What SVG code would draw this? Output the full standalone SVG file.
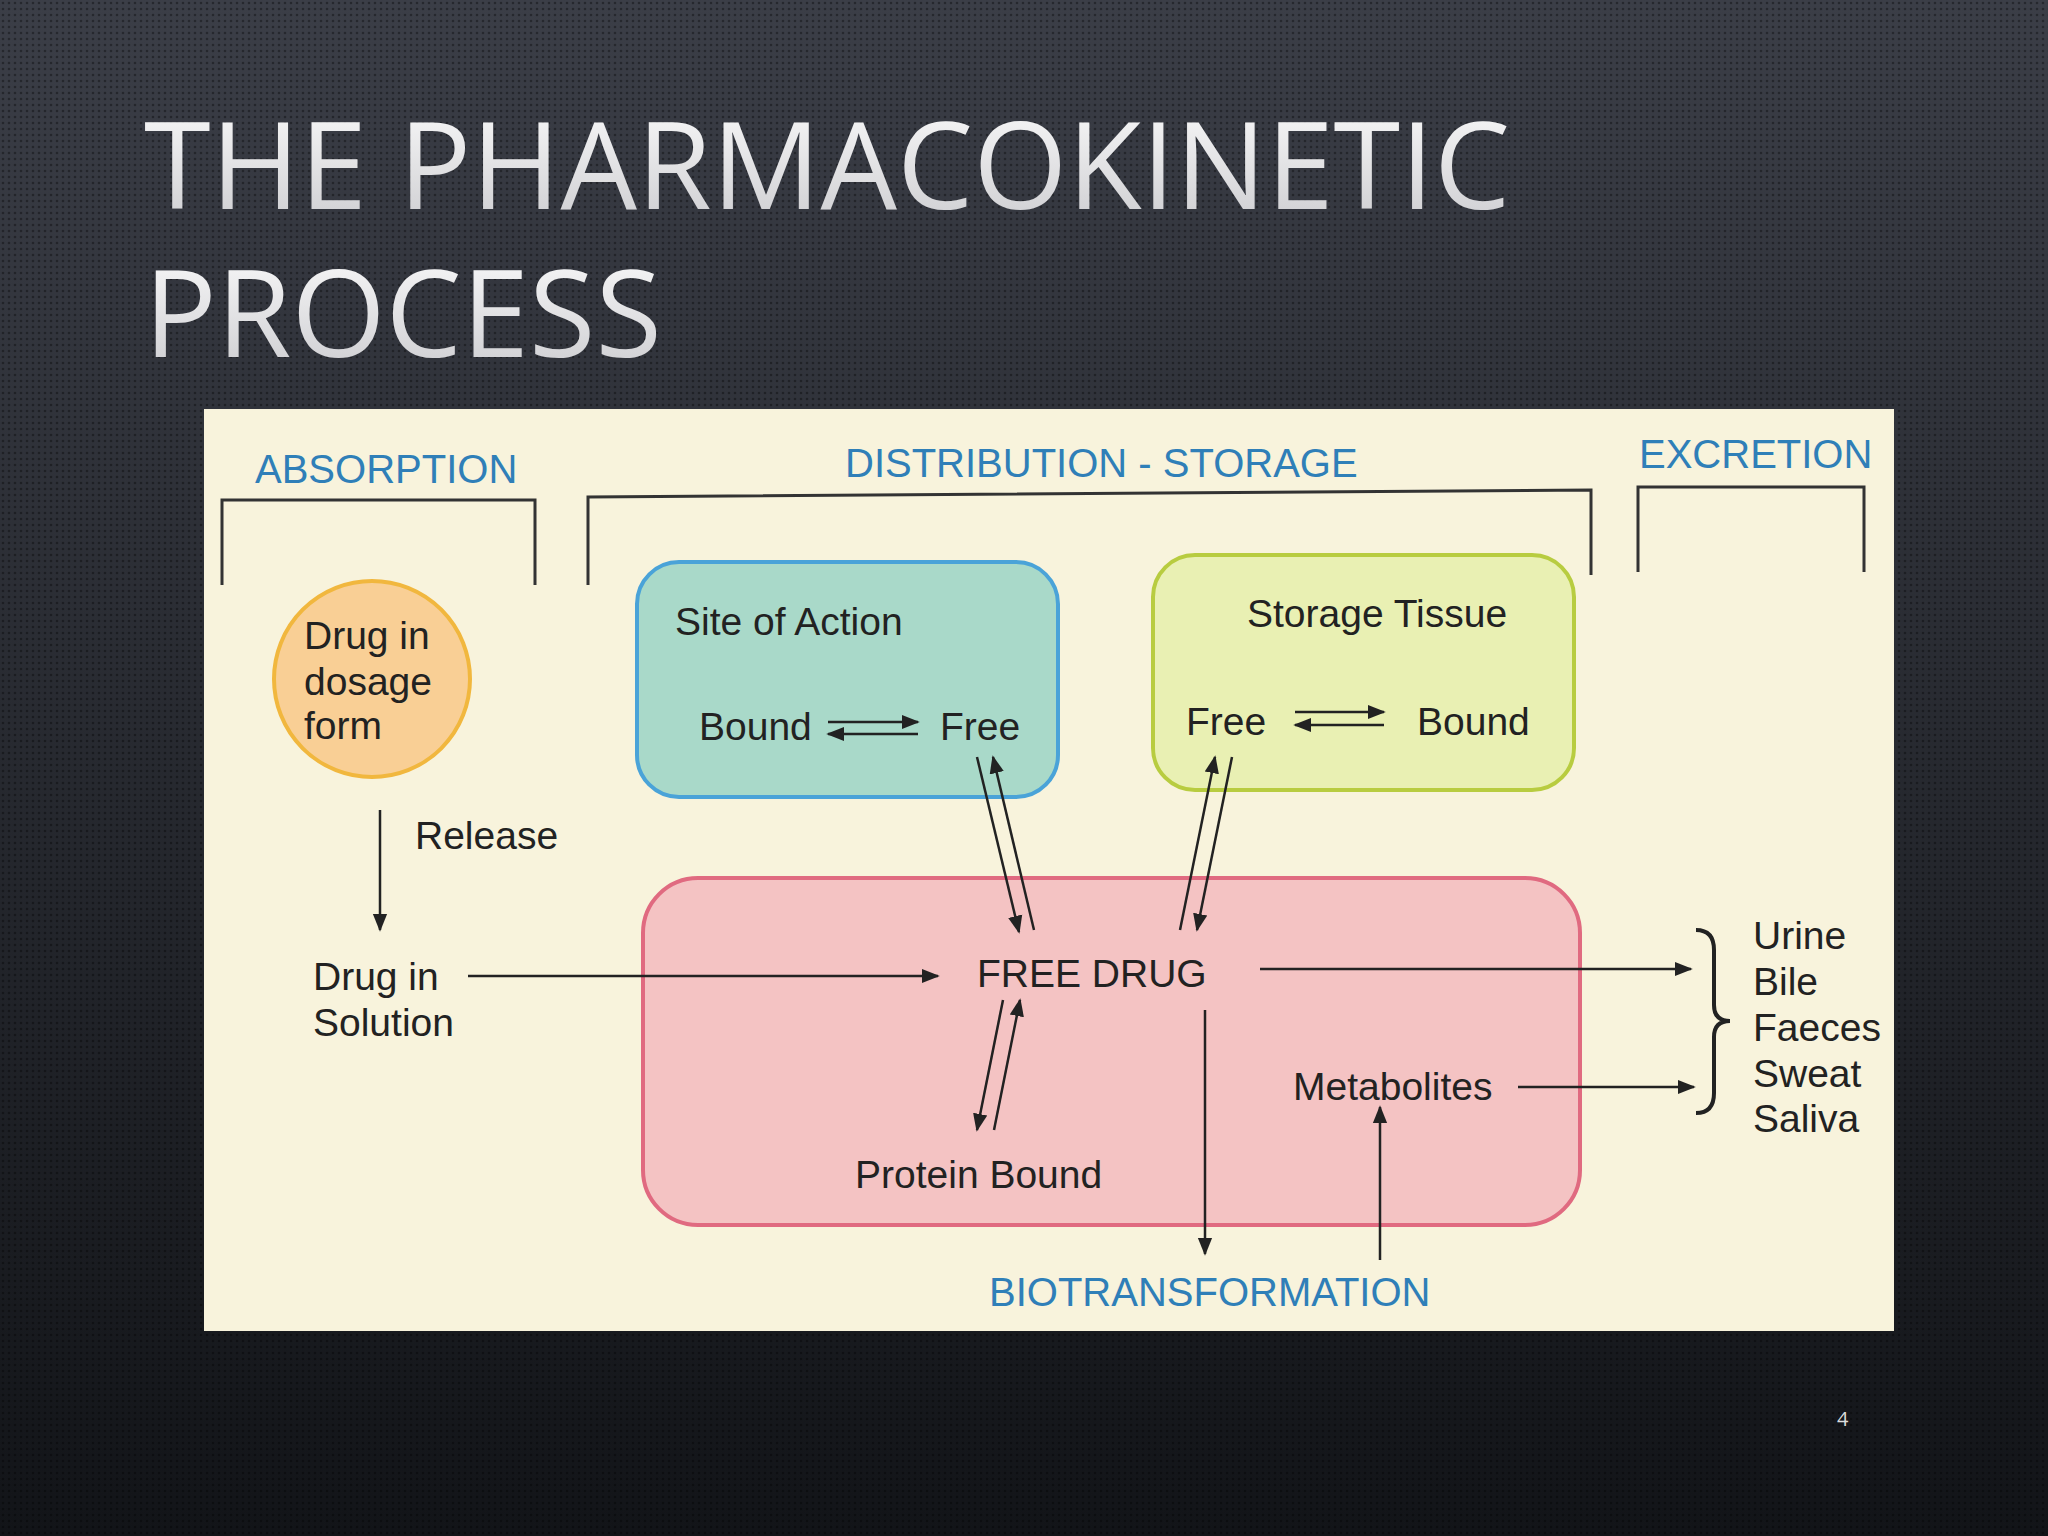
<svg xmlns="http://www.w3.org/2000/svg" width="2048" height="1536" viewBox="0 0 2048 1536">
<defs>
<linearGradient id="bg" x1="0" y1="0" x2="0" y2="1"><stop offset="0" stop-color="#3b3e47"/><stop offset="1" stop-color="#121418"/></linearGradient>
<linearGradient id="tt" x1="0" y1="0" x2="0" y2="1"><stop offset="0" stop-color="#ffffff"/><stop offset="1" stop-color="#c8c8cc"/></linearGradient>
<pattern id="dots" width="6" height="6" patternUnits="userSpaceOnUse"><circle cx="3" cy="3" r="1.3" fill="#000" opacity="0.35"/></pattern>
<marker id="ah2" viewBox="0 0 10 10" refX="9" refY="5" markerWidth="18" markerHeight="18" orient="auto-start-reverse" markerUnits="userSpaceOnUse"><path d="M0,1 L10,5 L0,9 z" fill="#222"/></marker>
</defs>
<style>
.t{font-family:"Liberation Sans",Arial,sans-serif;fill:#222;font-size:39px}
.h{font-family:"Liberation Sans",Arial,sans-serif;fill:#2f7fb8;font-size:40px}
.ln{stroke:#222;stroke-width:2.5;fill:none}
.br{stroke:#333;stroke-width:3;fill:none}
</style>
<rect width="2048" height="1536" fill="url(#bg)"/>
<rect width="2048" height="1536" fill="url(#dots)"/>
<text x="144" y="209" font-family="Open Sans,'Noto Sans',sans-serif" font-size="121" fill="url(#tt)">THE PHARMACOKINETIC</text>
<text x="144" y="357" font-family="Open Sans,'Noto Sans',sans-serif" font-size="121" fill="url(#tt)">PROCESS</text>
<rect x="204" y="409" width="1690" height="922" fill="#f8f3dc"/>
<g id="headers">
<text class="h" x="255" y="483">ABSORPTION</text>
<text class="h" x="845" y="477">DISTRIBUTION - STORAGE</text>
<text class="h" x="1639" y="468">EXCRETION</text>
<polyline class="br" points="222,585 222,500 535,500 535,585"/>
<polyline class="br" points="588,585 588,497 1591,490 1591,575"/>
<polyline class="br" points="1638,572 1638,487 1864,487 1864,572"/>
</g>
<g id="dosage">
<circle cx="372" cy="679" r="98" fill="#f9cf95" stroke="#f1b73e" stroke-width="4"/>
<text class="t" x="304" y="649">Drug in</text><text class="t" x="304" y="695">dosage</text><text class="t" x="304" y="739">form</text>
</g>
<g id="site">
<rect x="637" y="562" width="421" height="235" rx="42" fill="#a9d9c9" stroke="#4aa3d8" stroke-width="4"/>
<text class="t" x="675" y="635">Site of Action</text>
<text class="t" x="699" y="740">Bound</text><text class="t" x="940" y="740">Free</text>
</g>
<g id="storage">
<rect x="1153" y="555" width="421" height="235" rx="42" fill="#e9f0b3" stroke="#b8cc40" stroke-width="4"/>
<text class="t" x="1247" y="627">Storage Tissue</text>
<text class="t" x="1186" y="735">Free</text><text class="t" x="1417" y="735">Bound</text>
</g>
<g id="plasma">
<rect x="643" y="878" width="937" height="347" rx="55" fill="#f4c3c3" stroke="#e06a80" stroke-width="4"/>
<text class="t" x="977" y="987">FREE DRUG</text>
<text class="t" x="855" y="1188">Protein Bound</text>
<text class="t" x="1293" y="1100">Metabolites</text>
</g>
<g id="solution"><text class="t" x="313" y="990">Drug in</text><text class="t" x="313" y="1036">Solution</text><text class="t" x="415" y="849">Release</text></g>
<g id="excretion">
<text class="t" x="1753" y="949">Urine</text><text class="t" x="1753" y="995">Bile</text><text class="t" x="1753" y="1041">Faeces</text><text class="t" x="1753" y="1087">Sweat</text><text class="t" x="1753" y="1132">Saliva</text>
<path stroke="#222" stroke-width="4" fill="none" d="M1696,930 Q1714,930 1714,950 L1714,1005 Q1714,1021 1730,1021 Q1714,1021 1714,1037 L1714,1093 Q1714,1113 1696,1113"/>
</g>
<text class="h" x="989" y="1306">BIOTRANSFORMATION</text>
<text x="1837" y="1426" font-family="Open Sans,sans-serif" font-size="20" fill="#ddd">4</text>
<g id="connectors">
<line class="ln" x1="380" y1="810" x2="380" y2="930" marker-end="url(#ah2)"/>
<line class="ln" x1="468" y1="976" x2="938" y2="976" marker-end="url(#ah2)"/>
<line class="ln" x1="1260" y1="969" x2="1691" y2="969" marker-end="url(#ah2)"/>
<line class="ln" x1="1518" y1="1087" x2="1694" y2="1087" marker-end="url(#ah2)"/>
<line class="ln" x1="1205" y1="1010" x2="1205" y2="1254" marker-end="url(#ah2)"/>
<line class="ln" x1="1380" y1="1260" x2="1380" y2="1107" marker-end="url(#ah2)"/>
<line class="ln" x1="828" y1="722" x2="918" y2="722" marker-end="url(#ah2)"/>
<line class="ln" x1="918" y1="734" x2="828" y2="734" marker-end="url(#ah2)"/>
<line class="ln" x1="1295" y1="712" x2="1384" y2="712" marker-end="url(#ah2)"/>
<line class="ln" x1="1384" y1="725" x2="1295" y2="725" marker-end="url(#ah2)"/>
<line class="ln" x1="977" y1="757" x2="1019" y2="932" marker-end="url(#ah2)"/>
<line class="ln" x1="1034" y1="930" x2="993" y2="757" marker-end="url(#ah2)"/>
<line class="ln" x1="1232" y1="757" x2="1197" y2="930" marker-end="url(#ah2)"/>
<line class="ln" x1="1180" y1="930" x2="1215" y2="757" marker-end="url(#ah2)"/>
<line class="ln" x1="1003" y1="1000" x2="977" y2="1130" marker-end="url(#ah2)"/>
<line class="ln" x1="994" y1="1130" x2="1020" y2="1000" marker-end="url(#ah2)"/>
</g>
</svg>
